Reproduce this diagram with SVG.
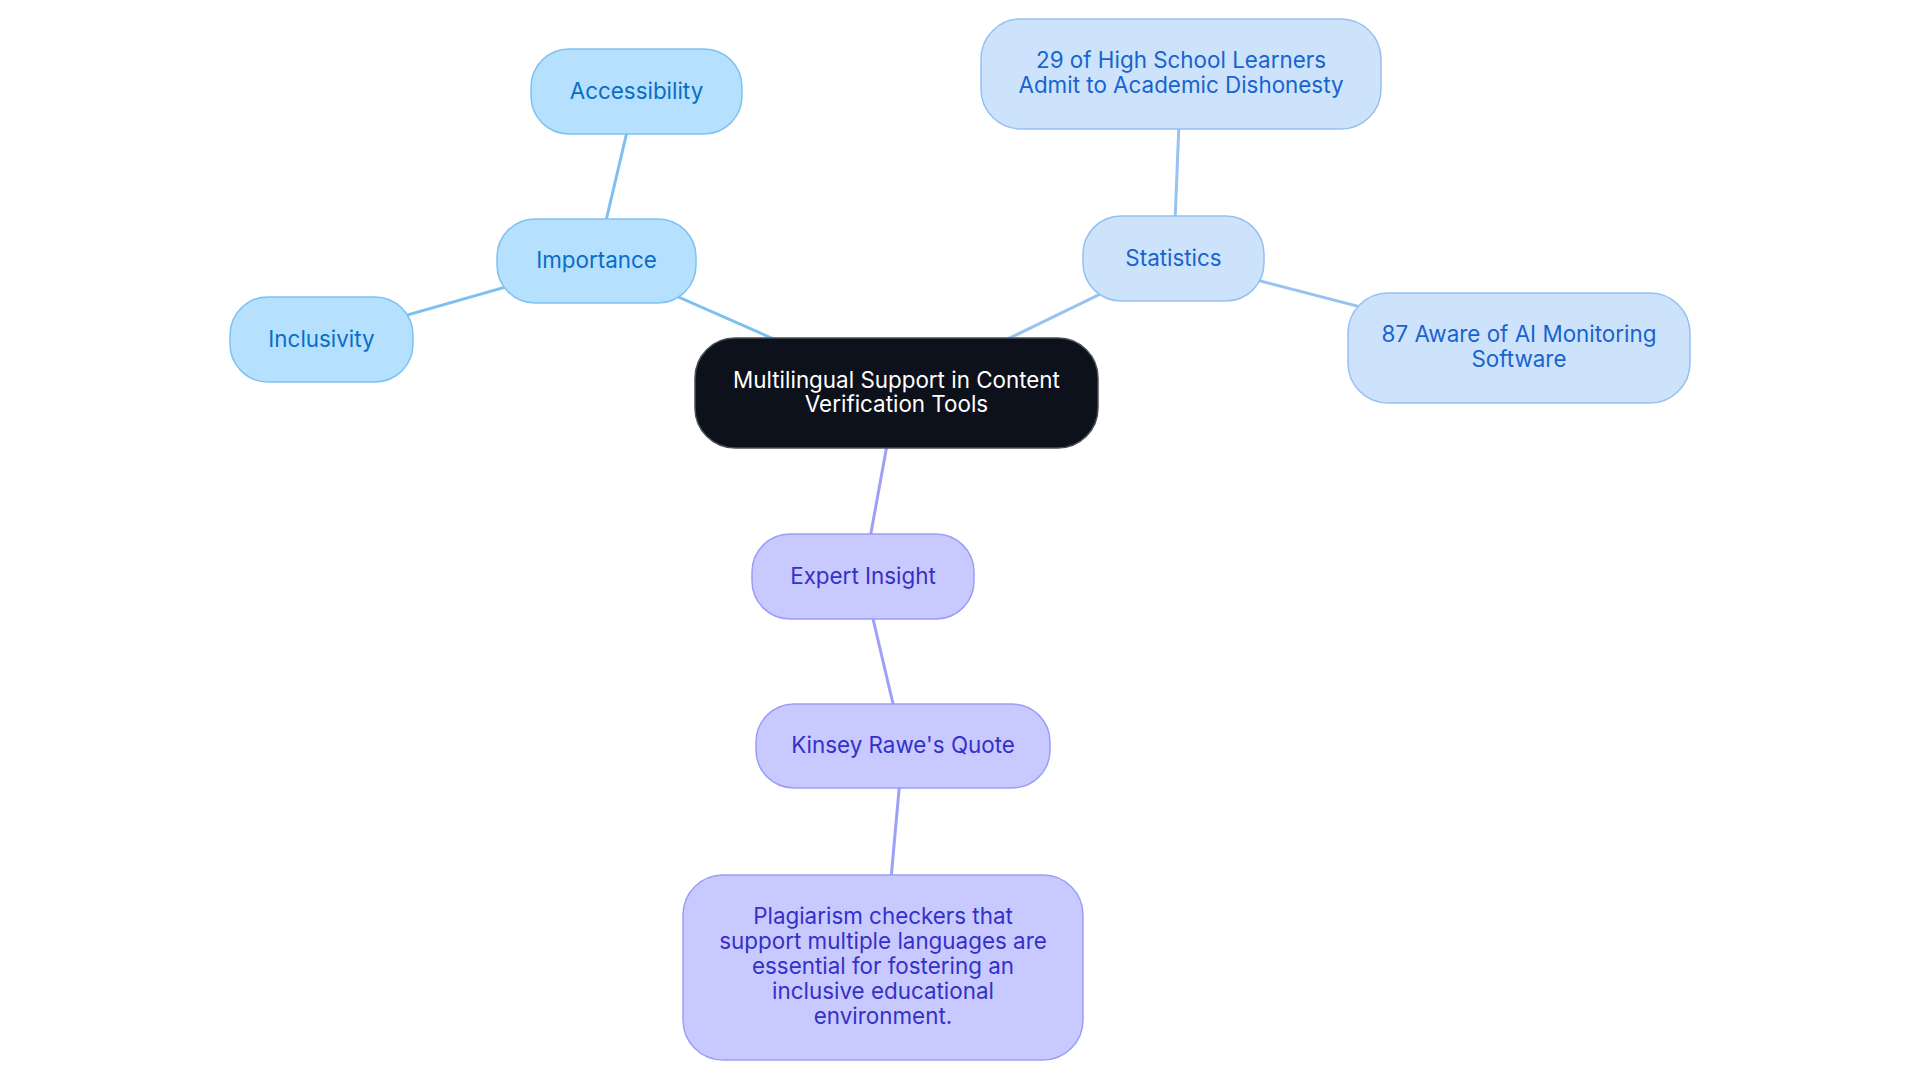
<svg xmlns="http://www.w3.org/2000/svg" width="1920" height="1083" viewBox="0 0 1920 1083">
<style>
text{font-family:Inter,"Noto Sans","Liberation Sans",sans-serif;font-size:22.4px;text-anchor:middle}
.e{fill:none;stroke-width:3;stroke-linecap:round}
.eb{stroke:#7ec0ee}
.es{stroke:#98c3f1}
.ex{stroke:#9da0f5}
.nb rect{fill:#b5e0fe;stroke:#7fc2f1;stroke-width:1.5}
.nb text{fill:#0a6dc6}
.ns rect{fill:#cde3fb;stroke:#95c1f0;stroke-width:1.5}
.ns text{fill:#1863d0}
.nx rect{fill:#c8caff;stroke:#9a9ef5;stroke-width:1.5}
.nx text{fill:#3530c8}
.nc rect{fill:#0c111b;stroke:#4a4f57;stroke-width:1.5}
.nc text{fill:#ffffff}
</style>
<rect width="1920" height="1083" fill="#ffffff"/>
<g id="connectors">
<line class="e eb" x1="896.5" y1="393" x2="596.5" y2="261"/>
<line class="e eb" x1="596.5" y1="261" x2="636.5" y2="91.5"/>
<line class="e eb" x1="596.5" y1="261" x2="321.5" y2="339.5"/>
<line class="e es" x1="896.5" y1="393" x2="1173.5" y2="258.5"/>
<line class="e es" x1="1173.5" y1="258.5" x2="1181" y2="74"/>
<line class="e es" x1="1173.5" y1="258.5" x2="1519" y2="348"/>
<line class="e ex" x1="896.5" y1="393" x2="863" y2="576.5"/>
<line class="e ex" x1="863" y1="576.5" x2="903" y2="746"/>
<line class="e ex" x1="903" y1="746" x2="883" y2="967.5"/>
</g>
<g id="node-center" class="nc">
<rect x="695" y="338" width="403" height="110" rx="40"/>
<text x="896.5" y="388">Multilingual Support in Content</text>
<text x="896.5" y="412">Verification Tools</text>
</g>
<g id="node-importance" class="nb">
<rect x="497" y="219" width="199" height="84" rx="38"/>
<text x="596.5" y="268">Importance</text>
</g>
<g id="node-accessibility" class="nb">
<rect x="531" y="49" width="211" height="85" rx="38"/>
<text x="636.5" y="98.5">Accessibility</text>
</g>
<g id="node-inclusivity" class="nb">
<rect x="230" y="297" width="183" height="85" rx="38"/>
<text x="321.5" y="346.5">Inclusivity</text>
</g>
<g id="node-statistics" class="ns">
<rect x="1083" y="216" width="181" height="85" rx="38"/>
<text x="1173.5" y="265.5">Statistics</text>
</g>
<g id="node-29" class="ns">
<rect x="981" y="19" width="400" height="110" rx="40"/>
<text x="1181" y="68">29 of High School Learners</text>
<text x="1181" y="93">Admit to Academic Dishonesty</text>
</g>
<g id="node-87" class="ns">
<rect x="1348" y="293" width="342" height="110" rx="40"/>
<text x="1519" y="342">87 Aware of AI Monitoring</text>
<text x="1519" y="367">Software</text>
</g>
<g id="node-expert" class="nx">
<rect x="752" y="534" width="222" height="85" rx="38"/>
<text x="863" y="583.5">Expert Insight</text>
</g>
<g id="node-kinsey" class="nx">
<rect x="756" y="704" width="294" height="84" rx="38"/>
<text x="903" y="752.5">Kinsey Rawe's Quote</text>
</g>
<g id="node-quote" class="nx">
<rect x="683" y="875" width="400" height="185" rx="40"/>
<text x="883" y="924">Plagiarism checkers that</text>
<text x="883" y="949">support multiple languages are</text>
<text x="883" y="974">essential for fostering an</text>
<text x="883" y="999">inclusive educational</text>
<text x="883" y="1024">environment.</text>
</g>
</svg>
